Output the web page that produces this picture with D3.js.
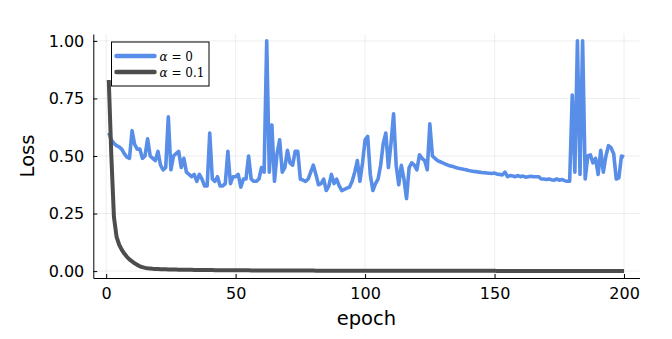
<!DOCTYPE html>
<html>
<head>
<meta charset="utf-8">
<script src="https://cdn.jsdelivr.net/npm/d3@7"></script>
<style>
  body { margin: 0; background: #fff; }
  text { font-family: "DejaVu Sans", sans-serif; fill: #000; }
</style>
</head>
<body>
<div id="chart"></div>
<script>
// Loss per epoch, two runs
const xTicks = [0, 50, 100, 150, 200];
const yTicks = [0, 0.25, 0.5, 0.75, 1.0];

const lossAlpha0 = [
  0.60, 0.57, 0.555, 0.545, 0.54, 0.53, 0.51, 0.495, 0.49, 0.61,
  0.55, 0.53, 0.53, 0.49, 0.50, 0.575, 0.50, 0.49, 0.48, 0.52,
  0.46, 0.44, 0.45, 0.67, 0.44, 0.50, 0.51, 0.52, 0.45, 0.49,
  0.43, 0.42, 0.41, 0.42, 0.39, 0.42, 0.40, 0.37, 0.37, 0.60,
  0.40, 0.39, 0.41, 0.37, 0.37, 0.38, 0.52, 0.38, 0.41, 0.41,
  0.42, 0.365, 0.40, 0.40, 0.50, 0.40, 0.39, 0.39, 0.40, 0.45,
  0.43, 1.00, 0.43, 0.635, 0.39, 0.51, 0.57, 0.43, 0.45, 0.525,
  0.47, 0.46, 0.52, 0.52, 0.40, 0.395, 0.39, 0.40, 0.43, 0.46,
  0.42, 0.375, 0.38, 0.40, 0.35, 0.37, 0.42, 0.38, 0.40, 0.37,
  0.35, 0.355, 0.36, 0.365, 0.39, 0.43, 0.48, 0.39, 0.47, 0.57,
  0.585, 0.42, 0.35, 0.38, 0.40, 0.46, 0.555, 0.60, 0.45, 0.555,
  0.683, 0.46, 0.375, 0.46, 0.40, 0.315, 0.45, 0.47, 0.46, 0.44,
  0.505, 0.49, 0.48, 0.44, 0.64, 0.50, 0.49, 0.48, 0.475, 0.47,
  0.465, 0.46, 0.457, 0.454, 0.45, 0.447, 0.445, 0.442, 0.44, 0.437,
  0.435, 0.433, 0.432, 0.43, 0.428, 0.427, 0.426, 0.425, 0.424, 0.426,
  0.421, 0.42, 0.418, 0.43, 0.41, 0.415, 0.413, 0.41, 0.415, 0.41,
  0.413, 0.408, 0.41, 0.412, 0.41, 0.41, 0.41, 0.40, 0.40, 0.398,
  0.40, 0.397, 0.395, 0.40, 0.395, 0.398, 0.393, 0.39, 0.39, 0.765,
  0.43, 1.00, 0.42, 1.00, 0.40, 0.50, 0.505, 0.47, 0.49, 0.42,
  0.525, 0.43, 0.50, 0.545, 0.535, 0.51, 0.40, 0.405, 0.50, 0.495
];

const lossAlpha01 = [
  0.83, 0.50, 0.235, 0.15, 0.115, 0.093, 0.076, 0.062, 0.051, 0.042,
  0.034, 0.027, 0.021, 0.017, 0.014, 0.012, 0.011, 0.010, 0.0095, 0.009,
  0.0085, 0.008, 0.0077, 0.0074, 0.0071, 0.0068, 0.0065, 0.0063, 0.0061, 0.0059,
  0.0057, 0.0055, 0.0053, 0.0052, 0.005, 0.0049, 0.0048, 0.0046, 0.0045, 0.0044,
  0.0043, 0.0042, 0.0041, 0.004, 0.0039, 0.0038, 0.0037, 0.0037, 0.0036, 0.0035,
  0.0034, 0.0034, 0.0033, 0.0032, 0.0032, 0.0031, 0.003, 0.003, 0.0029, 0.0029,
  0.0028, 0.0028, 0.0027, 0.0027, 0.0026, 0.0026, 0.0025, 0.0025, 0.0025, 0.0024,
  0.0024, 0.0023, 0.0023, 0.0023, 0.0022, 0.0022, 0.0022, 0.0021, 0.0021, 0.0021,
  0.002, 0.002, 0.002, 0.002, 0.0019, 0.0019, 0.0019, 0.0019, 0.0018, 0.0018,
  0.0018, 0.0018, 0.0017, 0.0017, 0.0017, 0.0017, 0.0017, 0.0016, 0.0016, 0.0016,
  0.0016, 0.0016, 0.0015, 0.0015, 0.0015, 0.0015, 0.0015, 0.0015, 0.0014, 0.0014,
  0.0014, 0.0014, 0.0014, 0.0014, 0.0013, 0.0013, 0.0013, 0.0013, 0.0013, 0.0013,
  0.0013, 0.0012, 0.0012, 0.0012, 0.0012, 0.0012, 0.0012, 0.0012, 0.0012, 0.0011,
  0.0011, 0.0011, 0.0011, 0.0011, 0.0011, 0.0011, 0.0011, 0.0011, 0.001, 0.001,
  0.001, 0.001, 0.001, 0.001, 0.001, 0.001, 0.001, 0.001, 0.001, 0.001,
  0.0009, 0.0009, 0.0009, 0.0009, 0.0009, 0.0009, 0.0009, 0.0009, 0.0009, 0.0009,
  0.0009, 0.0009, 0.0008, 0.0008, 0.0008, 0.0008, 0.0008, 0.0008, 0.0008, 0.0008,
  0.0008, 0.0008, 0.0008, 0.0008, 0.0008, 0.0007, 0.0007, 0.0007, 0.0007, 0.0007,
  0.0007, 0.0007, 0.0007, 0.0007, 0.0007, 0.0007, 0.0007, 0.0007, 0.0007, 0.0007,
  0.0007, 0.0006, 0.0006, 0.0006, 0.0006, 0.0006, 0.0006, 0.0006, 0.0006, 0.0006
];

const series = [
  { label: "0", values: lossAlpha0, color: "#588ee8", width: 3.6 },
  { label: "0.1", values: lossAlpha01, color: "#4d4d4d", width: 4 }
];

const width = 672;
const height = 339;
const margin = { top: 34, right: 32.5, bottom: 61, left: 93.3 };

const svg = d3.select("#chart")
  .append("svg")
  .attr("width", width)
  .attr("height", height);

const x = d3.scaleLinear()
  .domain([-4.97, 205.97])
  .range([margin.left, width - margin.right]);

const y = d3.scaleLinear()
  .domain([-0.03, 1.03])
  .range([height - margin.bottom, margin.top]);

// grid
svg.append("g")
  .selectAll("line")
  .data(xTicks)
  .join("line")
  .attr("x1", d => x(d)).attr("x2", d => x(d))
  .attr("y1", margin.top).attr("y2", height - margin.bottom)
  .attr("stroke", "#000").attr("stroke-opacity", 0.07).attr("stroke-width", 1);

svg.append("g")
  .selectAll("line")
  .data(yTicks)
  .join("line")
  .attr("x1", margin.left).attr("x2", width - margin.right)
  .attr("y1", d => y(d)).attr("y2", d => y(d))
  .attr("stroke", "#000").attr("stroke-opacity", 0.07).attr("stroke-width", 1);

// lines
const line = d3.line()
  .x((d, i) => x(i + 1))
  .y(d => y(d));

svg.selectAll(".series")
  .data(series)
  .join("path")
  .attr("class", "series")
  .attr("d", d => line(d.values))
  .attr("fill", "none")
  .attr("stroke", d => d.color)
  .attr("stroke-width", d => d.width)
  .attr("stroke-linejoin", "round");

// axes
const xAxis = svg.append("g")
  .attr("transform", `translate(0,${height - margin.bottom})`)
  .call(d3.axisBottom(x).tickValues(xTicks).tickSize(-4).tickPadding(10).tickSizeOuter(0));

const yAxis = svg.append("g")
  .attr("transform", `translate(${margin.left},0)`)
  .call(d3.axisLeft(y).tickValues(yTicks).tickFormat(d3.format(".2f")).tickSize(-4).tickPadding(9).tickSizeOuter(0));

[xAxis, yAxis].forEach(g => {
  g.select(".domain").attr("stroke", "#000").attr("stroke-width", 1);
  g.selectAll(".tick line").attr("stroke", "#000");
  g.selectAll("text").attr("font-size", 16).attr("font-family", "DejaVu Sans, sans-serif");
});

svg.append("text")
  .attr("x", (margin.left + width - margin.right) / 2)
  .attr("y", 325)
  .attr("text-anchor", "middle")
  .attr("font-size", 19.5)
  .text("epoch");

svg.append("text")
  .attr("transform", `translate(34,${(margin.top + height - margin.bottom) / 2}) rotate(-90)`)
  .attr("text-anchor", "middle")
  .attr("font-size", 19.5)
  .text("Loss");

// legend
const legend = svg.append("g").attr("transform", "translate(111.5,42)");
legend.append("rect")
  .attr("width", 97.5).attr("height", 44)
  .attr("fill", "#fff").attr("stroke", "#000").attr("stroke-width", 1);

const items = legend.selectAll(".item")
  .data(series)
  .join("g")
  .attr("class", "item")
  .attr("transform", (d, i) => `translate(0,${14 + i * 16})`);

items.append("line")
  .attr("x1", 5).attr("x2", 43)
  .attr("stroke", d => d.color)
  .attr("stroke-width", 4.5)
  .attr("stroke-linecap", "round");

const lt = items.append("text")
  .attr("x", 48).attr("y", 4.5)
  .attr("font-size", 12)
  .style("font-family", "'DejaVu Serif', 'Liberation Serif', serif");
lt.append("tspan").attr("font-style", "italic").text("α");
lt.append("tspan").text(d => " = " + d.label);
</script>
</body>
</html>
